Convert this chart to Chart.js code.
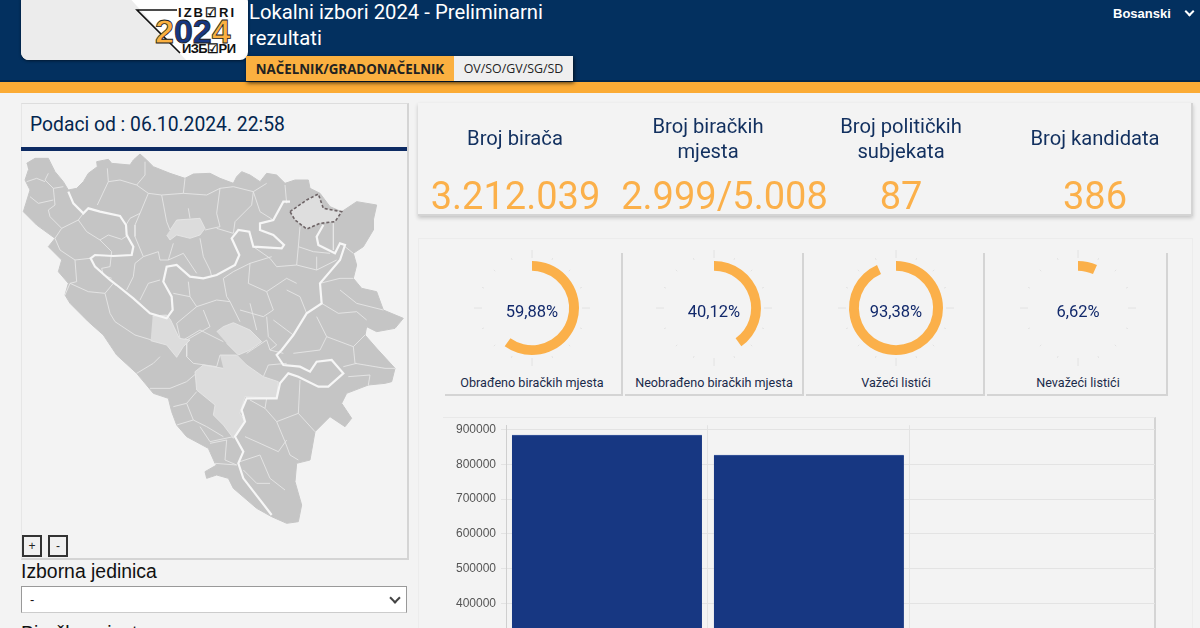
<!DOCTYPE html>
<html lang="bs">
<head>
<meta charset="utf-8">
<title>Lokalni izbori 2024 - Preliminarni rezultati</title>
<script src="https://cdn.jsdelivr.net/npm/chart.js@4"></script>
<style>
html, body { margin: 0; padding: 0; width: 1200px; height: 628px; overflow: hidden; background: #f3f3f3; font-family: Roboto, sans-serif; }
.abs { position: absolute; }
#nav { left: 0; top: 0; width: 1200px; height: 80px; background: #03305f; border-bottom: 2px solid #02264c; }
#strip { left: 0; top: 82px; width: 1200px; height: 11px; background: #fbab35; }
#logo { left: 21px; top: -6px; width: 227px; height: 66px; border-radius: 8px; background: #fff; box-shadow: 0 1px 3px rgba(0,0,0,.5); overflow: hidden; }
#title { left: 249px; top: 0; width: 330px; color: #fff; font-size: 20.3px; line-height: 25.5px; }
#tabs { left: 246px; top: 56px; width: 327px; height: 25px; display: flex; line-height: 26px; box-shadow: 1px 2px 4px rgba(0,0,0,.7); background: #efefef; color: #222; font-family: "Open Sans", sans-serif; }
#tabs b { background: #fbb040; width: 208px; text-align: center; font-size: 13.3px; }
#tabs span { flex: 1; text-align: center; font-size: 12.4px; }
#lang { left: 1113px; top: 6px; color: #fff; font: bold 13px "Liberation Sans", sans-serif; }
#chev { left: 1186px; top: 8px; width: 5px; height: 5px; border-right: 2px solid #fff; border-bottom: 2px solid #fff; transform: rotate(45deg); }
.card { background: #f3f3f3; border-right: 2px solid #d4d4d4; border-bottom: 2px solid #d4d4d4; box-sizing: border-box; }
#mapcard { left: 21px; top: 103px; width: 388px; height: 457px; border-top: 1px solid #ddd; border-left: 1px solid #e6e6e6; }
#stamp { left: 30px; top: 113px; font-size: 19.3px; color: #03264f; }
#bluebar { left: 21px; top: 147px; width: 386px; height: 4px; background: #0d2b63; }
#map { left: 20px; top: 150px; }
.zoombtn { top: 535px; width: 20px; height: 22px; box-sizing: border-box; border: 2px solid #333; background: #f0f0f0; font: 12px/18px "Liberation Sans", sans-serif; text-align: center; color: #222; }
#ij { left: 21px; top: 560px; font: 19.4px "Liberation Sans", sans-serif; color: #111; }
#ijsel { left: 21px; top: 586px; width: 386px; height: 27px; box-sizing: border-box; border: 1px solid #999; border-bottom-color: #ccc; background: #fff; font: 13px/25px "Liberation Sans", sans-serif; padding-left: 8px; color: #111; }
#ijchev { left: 391px; top: 594px; width: 6px; height: 6px; border-right: 2px solid #444; border-bottom: 2px solid #444; transform: rotate(45deg); }
#bm { left: 21px; top: 622px; font: 19.4px "Liberation Sans", sans-serif; color: #111; }
#statcard { left: 418px; top: 103px; width: 775px; height: 113px; box-shadow: 0 2px 4px rgba(0,0,0,.2); }
.statlabel { width: 190px; text-align: center; font-size: 20.2px; line-height: 25px; color: #12305f; }
.statvalue { width: 240px; text-align: center; font-size: 38px; line-height: 44px; color: #fbb04a; }
#panel { left: 418px; top: 238px; width: 775px; height: 400px; border: 1px solid #ececec; box-sizing: border-box; }
.gcard { top: 253px; height: 143px; }
.gpct { width: 130px; text-align: center; font-size: 16.5px; color: #12296b; top: 302px; }
.glabel { width: 179px; text-align: center; font-size: 12.6px; top: 375px; color: #1a2a4a; }
#barcard { left: 443px; top: 417px; width: 713px; height: 300px; border-top: 1px solid #e8e8e8; }
</style>
</head>
<body>
<div id="nav" class="abs"></div>
<div id="strip" class="abs"></div>
<div id="logo" class="abs">
<svg width="227" height="66" style="position:absolute;left:0;top:0">
<polygon points="0,0 105,0 165,66 0,66" fill="#ececec"/>
<path d="M156 16 L116 16 L159 59" stroke="#111" stroke-width="1.6" fill="none"/>
<text x="157" y="23" font-family="Liberation Sans" font-weight="bold" font-size="13" fill="#111" textLength="56">IZB☑RI</text>
<text x="134" y="49" font-family="Liberation Sans" font-weight="bold" font-size="34" stroke="#222" stroke-width=".8"><tspan fill="#fbb040">2</tspan><tspan fill="#173782">02</tspan><tspan fill="#fbb040">4</tspan></text>
<text x="161" y="59" font-family="Liberation Sans" font-weight="bold" font-size="13" fill="#111" textLength="54">ИЗБ☑РИ</text>
</svg>
</div>
<div id="title" class="abs">Lokalni izbori 2024 - Preliminarni<br>rezultati</div>
<div id="tabs" class="abs"><b>NAČELNIK/GRADONAČELNIK</b><span>OV/SO/GV/SG/SD</span></div>
<div id="lang" class="abs">Bosanski</div>
<div id="chev" class="abs"></div>

<div id="mapcard" class="abs card"></div>
<div id="stamp" class="abs">Podaci od : 06.10.2024. 22:58</div>
<div id="bluebar" class="abs"></div>
<canvas id="map" class="abs" width="390" height="380"></canvas>
<div class="abs zoombtn" style="left:22px">+</div>
<div class="abs zoombtn" style="left:48px">-</div>
<div id="ij" class="abs">Izborna jedinica</div>
<div id="ijsel" class="abs">-</div>
<div id="ijchev" class="abs"></div>
<div id="bm" class="abs">Biračko mjesto</div>

<div id="statcard" class="abs card"></div>
<div id="stats"></div>
<div id="panel" class="abs"></div>
<div id="gauges"></div>
<div id="barcard" class="abs card"></div>
<canvas id="bars" class="abs" style="left:442px;top:413px" width="713" height="364"></canvas>

<script>
// header figures
const statLabels = [['Broj birača'], ['Broj biračkih', 'mjesta'], ['Broj političkih', 'subjekata'], ['Broj kandidata']];
const statValues = ['3.212.039', '2.999/5.008', '87', '386'];

// gauges
const gaugeLabels = ['Obrađeno biračkih mjesta', 'Neobrađeno biračkih mjesta', 'Važeći listići', 'Nevažeći listići'];
const gaugeValues = [59.88, 40.12, 93.38, 6.62];

// bar chart
const barCategories = [0, 1];
const barValues = [884000, 826000];
const yTicks = [0, 100000, 200000, 300000, 400000, 500000, 600000, 700000, 800000, 900000];

// map, in its own units (0-1170 across, 0-1140 down)
const mapOutline = [[20,40],[45,25],[85,25],[105,65],[130,95],[145,120],[170,115],[190,95],[205,70],[232,50],[230,35],[265,28],[275,40],[330,45],[340,30],[360,12],[380,30],[400,50],[450,70],[495,85],[520,72],[570,70],[600,85],[640,100],[650,80],[665,65],[690,75],[720,95],[740,70],[770,75],[795,100],[825,90],[865,90],[870,115],[900,130],[930,170],[965,185],[1010,155],[1070,165],[1060,210],[1060,240],[1030,290],[1000,310],[1010,345],[1000,385],[1025,415],[1070,425],[1090,480],[1150,505],[1125,535],[1070,545],[1040,530],[1035,555],[1070,595],[1125,655],[1115,695],[1095,700],[1045,705],[980,730],[965,760],[995,805],[975,830],[930,800],[885,845],[870,930],[830,940],[825,995],[845,1065],[835,1115],[800,1120],[755,1100],[710,1075],[640,1015],[625,985],[590,975],[560,985],[555,965],[590,945],[585,940],[565,895],[500,860],[470,825],[455,785],[445,745],[400,730],[350,670],[290,615],[250,555],[205,515],[150,460],[135,435],[145,400],[115,365],[125,330],[85,290],[105,265],[50,225],[10,185],[30,120],[15,90],[25,60]];
const mapLight = [
  [[450,240],[470,210],[540,205],[555,235],[540,255],[510,265],[470,255],[450,270],[440,255]],
  [[398,498],[440,495],[452,510],[478,565],[510,570],[490,590],[470,622],[440,585],[392,572]],
  [[590,545],[610,530],[640,518],[690,540],[725,575],[690,600],[655,615],[620,580]],
  [[600,615],[650,615],[680,645],[730,680],[775,695],[770,745],[675,740],[660,790],[675,815],[640,865],[610,825],[580,795],[585,765],[530,720],[525,665],[550,645],[610,655]]
];
const mapSelected = [[810,185],[860,150],[895,132],[910,175],[965,185],[945,215],[900,220],[860,237],[825,210],[810,185]];
const mapThick = [
  [[145,125],[160,160],[190,190],[205,175],[240,185],[300,198],[318,225],[320,255],[340,290],[335,315],[280,318],[225,315],[212,325],[225,350],[270,390],[290,405],[340,445],[390,490],[440,505],[458,480],[455,440],[430,395],[440,350],[470,345],[510,380],[550,385],[590,375],[645,345],[658,315],[635,265],[655,240],[688,245],[700,290],[785,295],[792,285],[760,255],[720,240],[720,220],[760,210],[790,155],[810,155]],
  [[910,225],[890,260],[895,285],[945,310],[960,280],[975,285],[960,330],[900,400],[905,460],[860,490],[820,555],[785,600],[770,615],[790,645],[840,650],[870,665],[890,635],[935,630],[970,670],[925,710],[895,710],[835,680],[805,670],[780,700],[770,745],[680,745],[665,780],[675,815],[645,860],[670,905],[655,940],[670,985],[755,1095]]
];
const mapThin = [
  [[85,70],[75,90],[100,115],[130,110]],[[20,95],[50,85],[75,95]],
  [[100,115],[105,165],[85,180],[90,200],[125,235],[175,210],[190,190]],[[30,140],[55,160],[100,150]],
  [[125,235],[105,265],[120,300],[165,330],[210,325]],[[165,330],[170,395],[150,400],[135,435]],
  [[150,400],[205,425],[255,430],[280,400]],[[255,430],[270,490],[285,515],[345,555],[395,570]],
  [[175,210],[200,245],[240,270],[275,305],[270,350],[245,355],[250,375],[275,385]],[[240,270],[265,255],[305,268],[325,255]],
  [[232,165],[265,95],[300,90],[350,105],[385,130],[360,190],[330,205],[318,225]],[[265,95],[262,55]],[[350,105],[375,75],[375,35]],
  [[385,130],[425,135],[440,215],[450,240]],[[495,85],[490,130],[425,135]],[[490,130],[560,135],[600,115],[590,190],[600,230],[555,240]],[[505,175],[510,205]],
  [[360,190],[345,225],[345,260],[370,320],[345,340],[340,380],[320,420]],[[370,320],[415,305],[420,330],[445,330],[460,280]],[[420,390],[385,400],[360,450]],
  [[445,330],[490,310],[530,370]],[[540,265],[550,320],[570,360],[575,380]],[[505,395],[510,440],[530,470],[470,520],[480,565]],[[460,430],[510,440]],
  [[530,470],[590,450],[630,455],[660,515]],[[550,480],[570,530]],[[570,530],[500,570]],
  [[600,115],[640,110],[700,125],[740,100]],[[700,125],[695,165],[645,215],[640,250]],[[700,125],[720,185],[760,210]],[[800,160],[795,105]],[[640,250],[590,235]],
  [[700,290],[750,325],[770,350],[830,345]],[[640,365],[690,340],[755,320]],[[640,365],[610,385],[620,440],[630,455]],[[690,340],[685,400],[740,425],[800,385],[830,400]],
  [[840,230],[835,290],[830,345],[890,360],[950,330]],[[835,290],[880,305],[930,310]],[[890,360],[890,320]],[[940,220],[940,300]],[[975,290],[1000,310]],
  [[900,400],[960,385],[1000,385]],[[905,460],[955,490],[1010,485],[1040,510]],[[960,420],[1010,460],[1090,480]],[[740,425],[760,480],[730,500],[660,480]],
  [[800,420],[840,440],[860,490]],[[740,500],[745,560],[770,585],[750,600],[790,610]],[[760,510],[800,540],[820,555]],[[690,460],[710,540]],
  [[820,610],[900,600],[920,560],[1000,590],[1035,555]],[[920,560],[890,500]],[[1000,590],[1005,640],[1095,655],[1125,655]],[[970,650],[1010,640]],[[985,680],[1050,675],[1045,705]],
  [[680,610],[740,570],[750,600]],[[730,680],[745,645],[800,640]],[[840,690],[835,790],[885,845]],[[735,775],[770,815],[835,790]],[[690,750],[735,775],[740,745]],
  [[770,815],[795,875],[810,915],[835,930]],[[675,860],[720,880],[775,905],[800,870]],[[660,935],[720,915],[750,985],[795,1020]],[[670,960],[710,1000],[750,1000]],
  [[350,670],[400,640],[420,620]],[[390,715],[450,715],[500,695],[535,665]],[[460,770],[500,760],[530,725]],[[500,760],[520,810],[560,830],[610,860]],[[470,825],[520,810]],
  [[540,830],[570,875],[640,860]],[[570,880],[620,870],[615,930],[650,945]],[[585,940],[650,945]],[[500,570],[500,620],[520,640],[590,650],[600,615]],[[610,575],[540,540],[490,570]]
];

// faint dial around each gauge
const dialTicks = {
  id: 'dialTicks',
  beforeDatasetsDraw(chart) {
    const c = chart.ctx, a = chart.getDatasetMeta(0).data[0];
    c.save();
    c.strokeStyle = '#e2e2e2';
    for (let i = 0; i < 16; i++) {
      const t = i * Math.PI / 8, r0 = i % 4 ? 52 : 50, r1 = i % 4 ? 54 : 58;
      c.beginPath();
      c.moveTo(a.x + Math.cos(t) * r0, a.y + Math.sin(t) * r0);
      c.lineTo(a.x + Math.cos(t) * r1, a.y + Math.sin(t) * r1);
      c.stroke();
    }
    c.restore();
  }
};

let statHtml = '';
const labelCenters = [515, 708, 901, 1095];
const valueCenters = [515.5, 724.5, 901, 1095];
statLabels.forEach((lines, i) => {
  const top = lines.length === 1 ? 126 : 114;
  statHtml += `<div class="abs statlabel" style="left:${labelCenters[i] - 95}px;top:${top}px">${lines.join('<br>')}</div>`;
  statHtml += `<div class="abs statvalue" style="left:${valueCenters[i] - 120}px;top:174px">${statValues[i]}</div>`;
});
document.getElementById('stats').innerHTML = statHtml;

const gaugeLefts = [445, 625, 806, 987];
const gaugeWidths = [178, 179, 179, 181];
const gaugeCenters = [532, 714, 896, 1078];
let gaugeHtml = '';
gaugeLabels.forEach((label, i) => {
  gaugeHtml += `<div class="abs card gcard" style="left:${gaugeLefts[i]}px;width:${gaugeWidths[i]}px"></div>`;
  gaugeHtml += `<canvas id="g${i}" class="abs" width="130" height="130" style="left:${gaugeCenters[i] - 65}px;top:243px"></canvas>`;
  gaugeHtml += `<div class="abs gpct" style="left:${gaugeCenters[i] - 65}px">${String(gaugeValues[i]).replace('.', ',')}%</div>`;
  gaugeHtml += `<div class="abs glabel" style="left:${gaugeCenters[i] - 89.5}px">${label}</div>`;
});
document.getElementById('gauges').innerHTML = gaugeHtml;

gaugeValues.forEach((v, i) => {
  new Chart(document.getElementById('g' + i), {
    type: 'doughnut',
    data: {
      datasets: [{ data: [v, 100 - v], backgroundColor: ['#fbb04a', 'rgba(0,0,0,0)'], borderWidth: 0 }]
    },
    options: {
      responsive: false, animation: false, radius: 47, cutout: '79%',
      plugins: { legend: { display: false }, tooltip: { enabled: false } }
    },
    plugins: [dialTicks]
  });
});

new Chart(document.getElementById('bars'), {
  type: 'bar',
  data: {
    datasets: [{
      data: barCategories.map((c, i) => ({ x: c, y: barValues[i] })),
      backgroundColor: '#173782', borderColor: '#3c5a9c', borderWidth: { top: 1 }, barThickness: 190
    }]
  },
  options: {
    responsive: false, animation: false,
    layout: { padding: { top: 4, right: 0, bottom: 34 } },
    plugins: { legend: { display: false }, tooltip: { enabled: false } },
    scales: {
      x: {
        type: 'linear', min: -0.5, max: 2.714, offset: false,
        afterBuildTicks: a => { a.ticks = [{ value: -0.5 }, { value: 0.5 }, { value: 1.5 }]; },
        grid: { color: '#e3e3e3', drawTicks: false, offset: false },
        border: { color: '#cfcfcf' },
        ticks: { display: false }
      },
      y: {
        min: 0, max: 912000,
        afterBuildTicks: a => { a.ticks = yTicks.map(v => ({ value: v })); },
        afterFit: a => { a.width = 64; },
        grid: { color: '#e3e3e3', tickLength: 5 },
        border: { color: '#cfcfcf' },
        ticks: { color: '#555', font: { family: 'Liberation Sans', size: 12 }, padding: 5, callback: v => String(v) }
      }
    }
  }
});

// map drawn as filled line shapes on a fixed scale
const shape = (pts, fillColor, line, width, dash) => ({
  data: pts.map(p => ({ x: p[0], y: p[1] })),
  showLine: true, tension: 0, pointRadius: 0,
  backgroundColor: fillColor || 'transparent', fill: fillColor ? 'shape' : false,
  borderColor: line || 'transparent', borderWidth: width || 0, borderDash: dash || []
});
new Chart(document.getElementById('map'), {
  type: 'scatter',
  data: {
    datasets: [
      // chart.js paints earlier datasets on top
      shape(mapSelected, '#dedede', '#6e6466', 1.6, [3, 2]),
      ...mapThick.map(l => shape(l, null, '#f6f6f6', 2.2)),
      ...mapLight.map(l => shape(l, '#dcdcdc', '#e9e9e9', 0.8)),
      ...mapThin.map(l => shape(l, null, '#e6e6e6', 0.9)),
      shape(mapOutline, '#c5c5c5', '#c5c5c5', 1)
    ]
  },
  options: {
    responsive: false, animation: false,
    layout: { padding: 0 },
    plugins: { legend: { display: false }, tooltip: { enabled: false } },
    scales: {
      x: { display: false, min: 0, max: 1170 },
      y: { display: false, min: 0, max: 1140, reverse: true }
    }
  }
});
</script>
</body>
</html>
